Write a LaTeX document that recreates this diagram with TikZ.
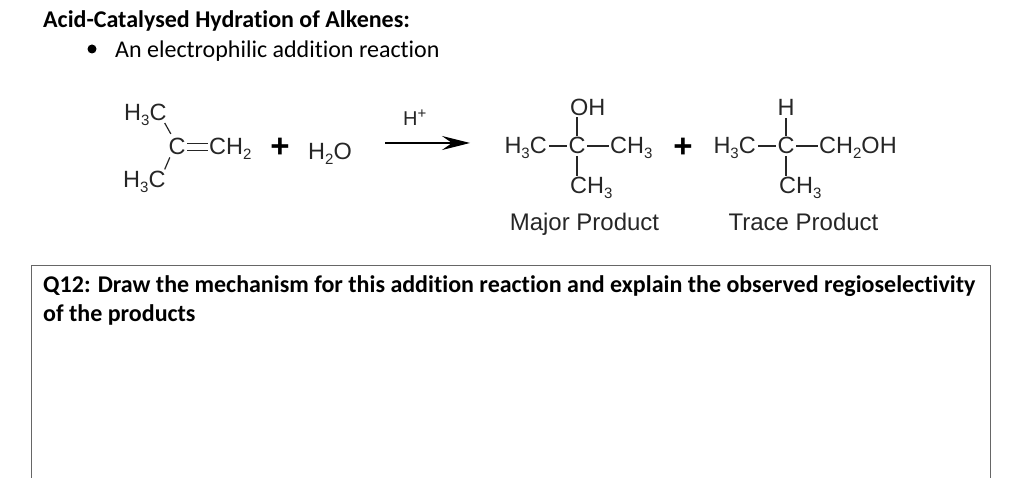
\documentclass[tikz,border=0pt]{standalone}
\usepackage{fontspec}
\setmainfont[Ligatures=NoCommon]{Carlito}
\newfontfamily\chemfont{Liberation Sans}
\usetikzlibrary{arrows.meta}
\newcommand{\lowidx}[1]{\raisebox{-4.5pt}{\fontsize{15}{15}\selectfont #1}}
\newcommand{\highidx}[1]{\raisebox{7pt}{\fontsize{15}{15}\selectfont #1}}
\tikzset{
  atom/.style={inner sep=0pt, font=\chemfont\fontsize{23.5}{23.5}\selectfont, text=black!85},
  caption/.style={inner sep=0pt, anchor=base, font=\chemfont\fontsize{24}{24}\selectfont, text=black!85},
  heading/.style={inner sep=0pt, anchor=base west, font=\fontsize{24}{24}\selectfont\bfseries},
  bulletline/.style={inner sep=0pt, anchor=base west, font=\fontsize{24}{24}\selectfont},
  bond/.style={line width=1.2pt, black!85, shorten >=1.5pt, shorten <=1.5pt},
  plus/.style={inner sep=0pt, font=\chemfont\bfseries\fontsize{33}{33}\selectfont}
}
\begin{document}
\begin{tikzpicture}[x=1pt,y=-1pt]
  \useasboundingbox (0,0) rectangle (1018,478);
  % heading
  \node[heading] (title) at (43,28) {Acid-Catalysed Hydration of Alkenes:};
  \node[inner sep=0pt, circle, fill=black, minimum size=9pt] (dot) at (92,49) {};
  \node[bulletline] (intro) at (115,58) {An electrophilic addition reaction};
  % alkene
  \node[atom, anchor=base] (alkC) at (177,155) {C};
  \node[atom, anchor=base west] (topMe) at (124,121) {H\lowidx{3}C};
  \node[atom, anchor=base west] (botMe) at (123,188) {H\lowidx{3}C};
  \node[atom, anchor=base west] (ch2) at (209,155) {CH\lowidx{2}};
  \draw[line width=1.2pt, black!85] ([shift={(-2,2)}]topMe.base east) -- ([shift={(2.5,-4.5)}]alkC.north west);
  \draw[line width=1.2pt, black!85] ([shift={(-1,-2)}]botMe.north east) -- ([shift={(1.5,2)}]alkC.south west);
  \draw[bond] ([yshift=-3.5pt]alkC.east) -- ([yshift=-3.5pt]alkC.east -| ch2.west);
  \draw[bond] ([yshift=3.5pt]alkC.east) -- ([yshift=3.5pt]alkC.east -| ch2.west);
  \node[plus] (plusA) at (280,148) {+};
  \node[atom, anchor=base west] (water) at (308,160) {H\lowidx{2}O};
  % arrow
  \coordinate (arrowStart) at (385,143);
  \coordinate (arrowEnd) at (470,143);
  \draw[line width=1.2pt, -{Stealth[length=28pt,width=14pt,inset=10pt]}] (arrowStart) -- (arrowEnd);
  \node[atom, anchor=base west, font=\chemfont\fontsize{20}{20}\selectfont] (acid) at (403,126) {H\highidx{+}};
  % major product
  \node[atom, anchor=base] (majC) at (577,154) {C};
  \node[atom, anchor=base west] (majOH) at (570,116) {OH};
  \node[atom, anchor=base east] (majL) at (547,154) {H\lowidx{3}C};
  \node[atom, anchor=base west] (majR) at (610,154) {CH\lowidx{3}};
  \node[atom, anchor=base west] (majB) at (570,194) {CH\lowidx{3}};
  \draw[bond] (majC.west) -- (majC.west -| majL.east);
  \draw[bond] (majC.east) -- (majC.east -| majR.west);
  \draw[bond] (majC.north) -- (majC.north |- majOH.base);
  \draw[bond] (majC.south) -- (majC.south |- majB.north);
  \node[caption] (majCap) at (584.5,231) {Major Product};
  \node[plus] (plusB) at (683,148) {+};
  % trace product
  \node[atom, anchor=base] (trC) at (786,154) {C};
  \node[atom, anchor=base] (trH) at (786,116) {H};
  \node[atom, anchor=base east] (trL) at (756,154) {H\lowidx{3}C};
  \node[atom, anchor=base west] (trR) at (819,154) {CH\lowidx{2}OH};
  \node[atom, anchor=base west] (trB) at (779,194) {CH\lowidx{3}};
  \draw[bond] (trC.west) -- (trC.west -| trL.east);
  \draw[bond] (trC.east) -- (trC.east -| trR.west);
  \draw[bond] (trC.north) -- (trH.south);
  \draw[bond] (trC.south) -- (trC.south |- trB.north);
  \node[caption] (trCap) at (803.5,231) {Trace Product};
  % question box
  \coordinate (boxBL) at (31,478);
  \coordinate (boxTL) at (31,266);
  \coordinate (boxTR) at (990,266);
  \coordinate (boxBR) at (990,478);
  \draw[line width=1pt, black!60] (boxBL) -- (boxTL) -- (boxTR) -- (boxBR);
  \node[heading] (question) at (43,293) {Q12: Draw the mechanism for this addition reaction and explain the observed regioselectivity};
  \node[heading] (questionB) at (43,322) {of the products};
\end{tikzpicture}
\end{document}
